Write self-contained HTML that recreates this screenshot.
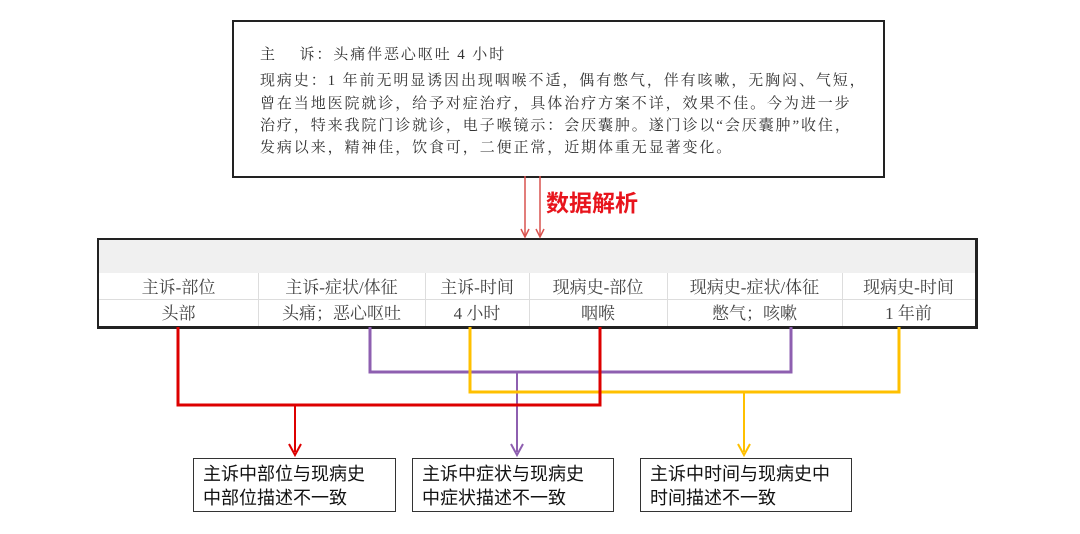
<!DOCTYPE html>
<html><head><meta charset="utf-8"><style>
body{margin:0;width:1080px;height:534px;background:#fff;position:relative;overflow:hidden;font-family:"Liberation Serif","Noto Serif CJK SC",serif;}
.abs{position:absolute}
.top{left:232px;top:20px;width:649px;height:154px;border:2px solid #222;box-sizing:content-box}
.top p{margin:0;position:absolute;left:26px;font-size:15px;color:#333;white-space:nowrap;letter-spacing:1.9px}
.tbl{left:97px;top:238px;width:876px;height:86px;border:2px solid #222;border-right-width:3px;border-bottom-width:3px;background:#fff}
.cell{position:absolute;text-align:center;font-size:17px;color:#444;line-height:27px}
.box{position:absolute;border:1.5px solid #333;font-family:"Liberation Sans","Noto Sans CJK SC",sans-serif;font-size:18px;line-height:24px;padding:3px 0 0 9px;box-sizing:border-box;color:#111;height:54px;top:458px}
</style></head><body>
<div class="abs top">
<p style="top:21px">主&nbsp;&nbsp;&nbsp;&nbsp;诉：头痛伴恶心呕吐 4 小时</p>
<p style="top:47px">现病史：1 年前无明显诱因出现咽喉不适，偶有憋气，伴有咳嗽，无胸闷、气短，</p>
<p style="top:70px">曾在当地医院就诊，给予对症治疗，具体治疗方案不详，效果不佳。今为进一步</p>
<p style="top:92px">治疗，特来我院门诊就诊，电子喉镜示：会厌囊肿。遂门诊以“会厌囊肿”收住，</p>
<p style="top:114px">发病以来，精神佳，饮食可，二便正常，近期体重无显著变化。</p>
</div>
<div class="abs" style="left:546px;top:184px;color:#e8141c;font-size:23px;font-weight:bold;font-family:'Liberation Sans','Noto Sans CJK SC',sans-serif">数据解析</div>
<div class="abs tbl">
<div class="abs" style="left:0;top:0;width:876px;height:33px;background:#f0f0f0"></div>
<div class="abs" style="left:0;top:59px;width:876px;height:1px;background:#ddd"></div>
<div class="abs" style="left:159px;top:33px;width:1px;height:53px;background:#ddd"></div>
<div class="abs" style="left:326px;top:33px;width:1px;height:53px;background:#ddd"></div>
<div class="abs" style="left:430px;top:33px;width:1px;height:53px;background:#ddd"></div>
<div class="abs" style="left:568px;top:33px;width:1px;height:53px;background:#ddd"></div>
<div class="abs" style="left:743px;top:33px;width:1px;height:53px;background:#ddd"></div>
<div class="cell" style="left:0;width:159px;top:34px">主诉-部位</div>
<div class="cell" style="left:159px;width:167px;top:34px">主诉-症状/体征</div>
<div class="cell" style="left:326px;width:104px;top:34px">主诉-时间</div>
<div class="cell" style="left:430px;width:138px;top:34px">现病史-部位</div>
<div class="cell" style="left:568px;width:175px;top:34px">现病史-症状/体征</div>
<div class="cell" style="left:743px;width:133px;top:34px">现病史-时间</div>
<div class="cell" style="left:0;width:159px;top:60px">头部</div>
<div class="cell" style="left:159px;width:167px;top:60px">头痛；恶心呕吐</div>
<div class="cell" style="left:326px;width:104px;top:60px">4 小时</div>
<div class="cell" style="left:430px;width:138px;top:60px">咽喉</div>
<div class="cell" style="left:568px;width:175px;top:60px">憋气；咳嗽</div>
<div class="cell" style="left:743px;width:133px;top:60px">1 年前</div>
</div>
<svg class="abs" style="left:0;top:0" width="1080" height="534">
<g stroke="#d9534f" stroke-width="1.5" fill="none">
<line x1="525" y1="176" x2="525" y2="236"/><polyline points="521,229 525,237 529,229"/>
<line x1="540" y1="176" x2="540" y2="236"/><polyline points="536,229 540,237 544,229"/>
</g>
<g fill="none" stroke-width="3">
<polyline stroke="#8e5fb0" points="370,327 370,372 791,372 791,327"/>
<line stroke="#8e5fb0" stroke-width="2" x1="517" y1="372" x2="517" y2="452"/>
<polyline stroke="#8e5fb0" stroke-width="2" points="511,444 517,455 523,444"/>
<polyline stroke="#ffc000" points="470,327 470,392 899,392 899,327"/>
<line stroke="#ffc000" stroke-width="2" x1="744" y1="392" x2="744" y2="452"/>
<polyline stroke="#ffc000" stroke-width="2" points="738,444 744,455 750,444"/>
<polyline stroke="#dd0000" points="178,327 178,405 600,405 600,327"/>
<line stroke="#dd0000" stroke-width="2" x1="295" y1="405" x2="295" y2="452"/>
<polyline stroke="#dd0000" stroke-width="2" points="289,444 295,455 301,444"/>
</g>
</svg>
<div class="box" style="left:193px;width:203px">主诉中部位与现病史<br>中部位描述不一致</div>
<div class="box" style="left:412px;width:202px">主诉中症状与现病史<br>中症状描述不一致</div>
<div class="box" style="left:640px;width:212px">主诉中时间与现病史中<br>时间描述不一致</div>
</body></html>
